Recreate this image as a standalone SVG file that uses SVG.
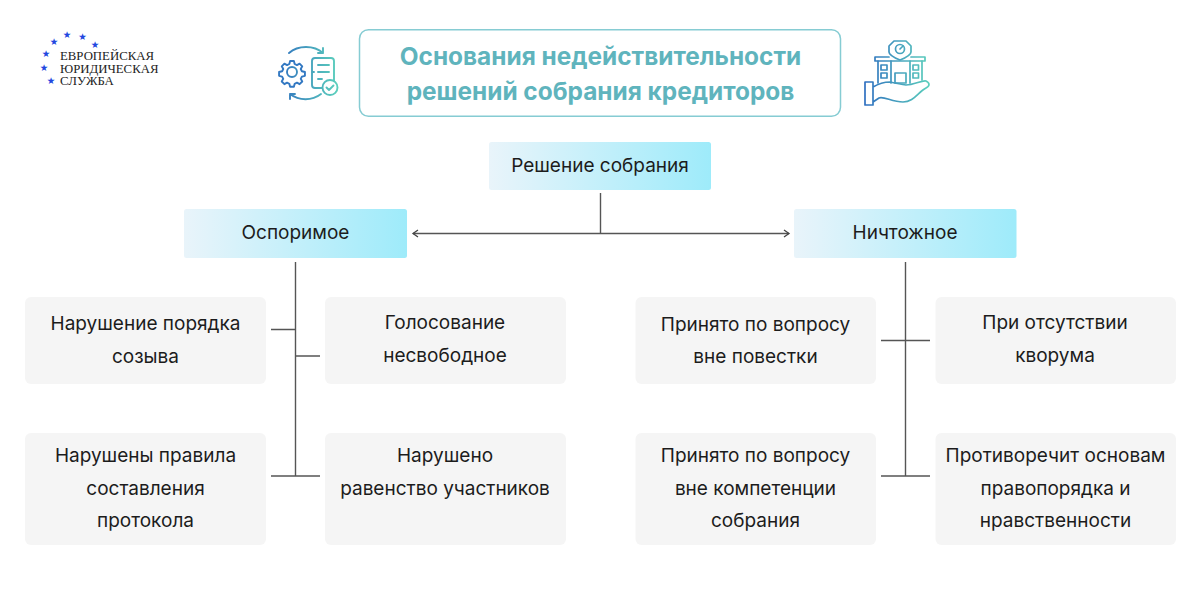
<svg xmlns="http://www.w3.org/2000/svg" width="1200" height="600" viewBox="0 0 1200 600">
<style>
.t{font-family:Inter,"Noto Sans",sans-serif;font-size:19px;fill:#1c1c1c;text-anchor:middle}
.h{font-family:Inter,"Noto Sans",sans-serif;font-size:24.4px;font-weight:700;fill:#5fb4bd;text-anchor:middle}
.l{font-family:"Liberation Serif",serif;font-size:12.8px;fill:#222}
.s{font-family:"DejaVu Sans",sans-serif;font-size:9.5px;fill:#2347e0;text-anchor:middle}
.b{fill:#f5f5f5}
.g{fill:url(#blue)}
.c{stroke:#555;stroke-width:1.4;fill:none}
.i1{fill:none;stroke:url(#ic1);stroke-width:1.9;stroke-linejoin:round;stroke-linecap:round}
.i2{fill:none;stroke:url(#ic2);stroke-width:1.7;stroke-linejoin:round;stroke-linecap:round}
</style>
<defs>
<linearGradient id="blue"><stop offset="0" stop-color="#e9f4fa"/><stop offset="1" stop-color="#9eebfa"/></linearGradient>
<linearGradient id="ic1" gradientUnits="userSpaceOnUse" x1="278" y1="0" x2="338" y2="0"><stop offset="0" stop-color="#2f6fc0"/><stop offset="1" stop-color="#5cd0bc"/></linearGradient>
<linearGradient id="ic2" gradientUnits="userSpaceOnUse" x1="865" y1="0" x2="930" y2="0"><stop offset="0" stop-color="#2f6fc0"/><stop offset="1" stop-color="#5cd0bc"/></linearGradient>
<marker id="arr" markerWidth="8" markerHeight="10" refX="6" refY="5" orient="auto-start-reverse" markerUnits="userSpaceOnUse"><path d="M1 1.500L6 5L1 8.500" fill="none" stroke="#444" stroke-width="1.3"/></marker>
</defs>
<rect width="1200" height="600" fill="#fff"/>

<g id="logo">
<text class="s" x="67" y="38">★</text><text class="s" x="82.500" y="39.500">★</text><text class="s" x="54" y="44.500">★</text><text class="s" x="95" y="48">★</text><text class="s" x="46" y="56.500">★</text><text class="s" x="44" y="71">★</text><text class="s" x="51" y="84">★</text>
<text class="l" x="60" y="60">ЕВРОПЕЙСКАЯ</text>
<text class="l" x="60" y="72.700">ЮРИДИЧЕСКАЯ</text>
<text class="l" x="60" y="85">СЛУЖБА</text>
</g>

<g id="icon-left">
<path d="M289 59 l5 0 l1 4 l3 1.500 l3.500-2 l3.500 3.500 l-2 3.500 l1.500 3 l4 1 l0 5 l-4 1 l-1.500 3 l2 3.500 l-3.500 3.500 l-3.500-2 l-3 1.500 l-1 4 l-5 0 l-1-4 l-3-1.500 l-3.500 2 l-3.500-3.500 l2-3.500 l-1.500-3 l-4-1 l0-5 l4-1 l1.500-3 l-2-3.500 l3.500-3.500 l3.500 2 l3-1.500z" transform="translate(292 72) scale(.76) translate(-291.500 -73.500)" style="fill:none;stroke:#3278c2;stroke-width:2.500;stroke-linejoin:round"/>
<circle class="i1" cx="292" cy="72" r="5"/>
<path class="i1" d="M334 81V61a3 3 0 0 0-3-3H315a3 3 0 0 0-3 3V85a3 3 0 0 0 3 3H322"/>
<path class="i1" d="M318 65H329M318 72H329M312.500 72H314M318 79H322"/>
<circle class="i1" cx="330" cy="87.500" r="7.500" style="fill:#fff"/>
<path class="i1" d="M326.500 87.500l2.500 2.500l4.500-4.500"/>
<path class="i1" d="M289 53C298 45 314 45 323 53M323 48v5h-5"/>
<path class="i1" d="M321 94C312 101 299 101 290 94M290 99v-5h5"/>
</g>

<g id="title">
<rect x="359.500" y="29.700" width="481" height="86.600" rx="9" fill="#fff" stroke="#86ccd3" stroke-width="1.500"/>
<text class="h" x="600.500" y="65">Основания недействительности</text>
<text class="h" x="600.500" y="100">решений собрания кредиторов</text>
</g>

<g id="icon-right">
<path class="i2" d="M894 41H906L911 46V52C911 55 905 58 900 60C895 58 889 55 889 52V46z"/>
<circle class="i2" cx="900" cy="49" r="4.500"/>
<path class="i2" d="M900 49l3-3"/>
<path class="i2" d="M889 57H875V61H925V57H911"/>
<path class="i2" d="M878 61V83M922 61V80M891 61V83M910 61V83"/>
<path class="i2" d="M881 65h6v5h-6zM881 73h6v5h-6zM913 65h5.500v5h-5.500zM913 73h5.500v5h-5.500zM895 73h11v10H895z"/>
<path class="i2" d="M865 82H873V105H865zM873 87C878 84 884 82 890 82C895 83 900 84 906 85C914 85 922 80 926 81C930 83 930 86 926 88C918 92 914 102 903 102C892 102 884 96 879 98L873 102"/>
</g>

<g id="connectors">
<path class="c" d="M600.500 193V233.500"/>
<path class="c" d="M413 233.500H789" marker-start="url(#arr)" marker-end="url(#arr)"/>
<path class="c" d="M295.500 262V476M271 329.500H295.500M295.500 356H320M271 476H320"/>
<path class="c" d="M905.500 262V476M881 340.500H930M881 476H930"/>
</g>

<g id="n-root"><rect class="g" x="489" y="142" width="222" height="48" rx="2.500"/><text class="t" x="600" y="172">Решение собрания</text></g>
<g id="n-osp"><rect class="g" x="184" y="209" width="223" height="49" rx="2.500"/><text class="t" x="295.500" y="239">Оспоримое</text></g>
<g id="n-nich"><rect class="g" x="794" y="209" width="222.500" height="49" rx="2.500"/><text class="t" x="905" y="239">Ничтожное</text></g>

<g id="n1"><rect class="b" x="25" y="297" width="241" height="87" rx="6"/><text class="t" x="145.500" y="330">Нарушение порядка</text><text class="t" x="145.500" y="363">созыва</text></g>
<g id="n2"><rect class="b" x="325" y="297" width="241" height="87" rx="6"/><text class="t" x="445" y="329">Голосование</text><text class="t" x="445" y="362">несвободное</text></g>
<g id="n3"><rect class="b" x="25" y="433" width="241" height="112" rx="6"/><text class="t" x="145.500" y="462">Нарушены правила</text><text class="t" x="145.500" y="494.500">составления</text><text class="t" x="145.500" y="527">протокола</text></g>
<g id="n4"><rect class="b" x="325" y="433" width="241" height="112" rx="6"/><text class="t" x="445" y="462">Нарушено</text><text class="t" x="445" y="494.500">равенство участников</text></g>
<g id="n5"><rect class="b" x="635.500" y="297" width="240.500" height="87" rx="6"/><text class="t" x="755.500" y="331">Принято по вопросу</text><text class="t" x="755.500" y="363">вне повестки</text></g>
<g id="n6"><rect class="b" x="935.500" y="297" width="240.500" height="87" rx="6"/><text class="t" x="1055" y="329">При отсутствии</text><text class="t" x="1055" y="362">кворума</text></g>
<g id="n7"><rect class="b" x="635.500" y="433" width="240.500" height="112" rx="6"/><text class="t" x="755.500" y="462">Принято по вопросу</text><text class="t" x="755.500" y="494.500">вне компетенции</text><text class="t" x="755.500" y="527">собрания</text></g>
<g id="n8"><rect class="b" x="935.500" y="433" width="240.500" height="112" rx="6"/><text class="t" x="1055.500" y="462">Противоречит основам</text><text class="t" x="1055.500" y="494.500">правопорядка и</text><text class="t" x="1055.500" y="527">нравственности</text></g>
</svg>
